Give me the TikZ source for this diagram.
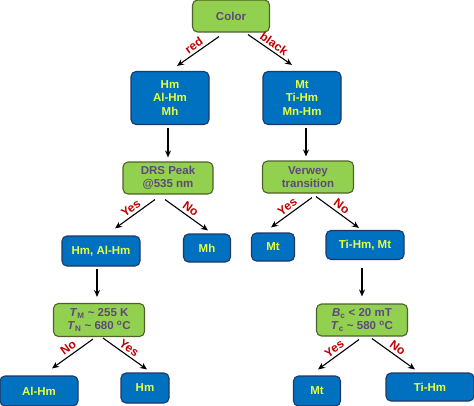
\documentclass[tikz,border=0pt]{standalone}
\usepackage{fontspec}
\setmainfont{Liberation Sans}
\usepackage{xcolor}
\usetikzlibrary{arrows.meta}
\definecolor{boxgreen}{HTML}{92D050}
\definecolor{edgegreen}{HTML}{4F6228}
\definecolor{txtpurple}{HTML}{5F497A}
\definecolor{boxblue}{HTML}{0070C0}
\definecolor{edgeblue}{HTML}{1F3864}
\definecolor{txtyellow}{HTML}{E6FF3C}
\definecolor{lblred}{HTML}{C00000}

\begin{document}
\begin{tikzpicture}[
    x=1pt, y=-1pt,
    box/.style={rounded corners=5pt, line width=1.1pt, inner sep=0pt,
                align=center, font=\fontsize{11.5}{13.3}\selectfont\bfseries},
    greenbox/.style={box, fill=boxgreen, draw=edgegreen, text=txtpurple},
    bluebox/.style={box, fill=boxblue, draw=edgeblue, text=txtyellow},
    arr/.style={-{Stealth[length=7pt, width=6pt]}, line width=1.1pt},
    lbl/.style={midway, sloped, above, inner sep=2.5pt, text=lblred,
                font=\fontsize{12}{14}\selectfont\bfseries}
  ]
  \useasboundingbox (0,0) rectangle (474,405);
  % tests
  \node[greenbox, minimum width=77pt, minimum height=32pt] (color) at (231,16) {Color};
  \node[greenbox, minimum width=90pt, minimum height=32pt] (drs) at (168,178) {DRS Peak\\@535 nm};
  \node[greenbox, minimum width=91pt, minimum height=32pt] (verwey) at (308,177) {Verwey\\transition};
  \node[greenbox, minimum width=91pt, minimum height=33pt] (tm) at (99,320)
    {\textit{T}\textsubscript{M} \textasciitilde{} 255 K\\\textit{T}\textsubscript{N} \textasciitilde{} 680 \textsuperscript{o}C};
  \node[greenbox, minimum width=91pt, minimum height=32pt] (bc) at (362,320)
    {\textit{B}\textsubscript{c} < 20 mT\\\textit{T}\textsubscript{c} \textasciitilde{} 580 \textsuperscript{o}C};
  % minerals
  \node[bluebox, minimum width=78pt, minimum height=53pt] (hmgrp) at (170,98) {Hm\\Al-Hm\\Mh};
  \node[bluebox, minimum width=78pt, minimum height=53pt] (mtgrp) at (302,98) {Mt\\Ti-Hm\\Mn-Hm};
  \node[bluebox, minimum width=78pt, minimum height=30pt] (hmal) at (101,251) {Hm, Al-Hm};
  \node[bluebox, minimum width=47pt, minimum height=28pt] (mh) at (207,248) {Mh};
  \node[bluebox, minimum width=43pt, minimum height=28pt] (mta) at (273,247) {Mt};
  \node[bluebox, minimum width=78pt, minimum height=29pt] (timt) at (365,245) {Ti-Hm, Mt};
  \node[bluebox, minimum width=78pt, minimum height=30pt] (alhm) at (39,391) {Al-Hm};
  \node[bluebox, minimum width=48pt, minimum height=30pt] (hmb) at (145,388) {Hm};
  \node[bluebox, minimum width=47pt, minimum height=30pt] (mtb) at (317,391) {Mt};
  \node[bluebox, minimum width=88pt, minimum height=28pt] (tihm) at (430,387) {Ti-Hm};
  % arrows
  \draw[arr] ([xshift=-12pt,yshift=-4pt]color.south) -- ([xshift=7pt,yshift=5pt]hmgrp.north) node[lbl] {red};
  \draw[arr] ([xshift=17pt,yshift=-2pt]color.south) -- ([xshift=-10pt,yshift=6pt]mtgrp.north) node[lbl] {black};
  \draw[arr] ([xshift=-2pt,yshift=-3pt]hmgrp.south) -- ([yshift=4pt]drs.north);
  \draw[arr] ([xshift=4pt,yshift=-3pt]mtgrp.south) -- ([xshift=-2pt,yshift=4pt]verwey.north);
  \draw[arr] ([xshift=-13pt,yshift=-5pt]drs.south) -- ([xshift=14pt,yshift=7pt]hmal.north) node[lbl] {Yes};
  \draw[arr] ([xshift=-3pt,yshift=-5pt]drs.south) -- ([xshift=1pt,yshift=3pt]mh.north) node[lbl] {No};
  \draw[arr] ([xshift=4pt,yshift=-4pt]verwey.south) -- ([xshift=-2pt,yshift=5pt]mta.north) node[lbl] {Yes};
  \draw[arr] ([xshift=8pt,yshift=-3pt]verwey.south) -- ([xshift=-6pt,yshift=2pt]timt.north) node[lbl] {No};
  \draw[arr] ([xshift=-4pt,yshift=-2pt]hmal.south) -- ([xshift=-2pt,yshift=6pt]tm.north);
  \draw[arr] ([xshift=-3pt,yshift=-8pt]timt.south) -- ([yshift=7pt]bc.north);
  \draw[arr] ([xshift=-6pt,yshift=-2pt]tm.south) -- ([xshift=13pt,yshift=7pt]alhm.north) node[lbl] {No};
  \draw[arr] ([xshift=4pt,yshift=-1pt]tm.south) -- ([xshift=2pt,yshift=3pt]hmb.north) node[lbl] {Yes};
  \draw[arr] ([xshift=-3pt,yshift=-3pt]bc.south) -- ([xshift=1pt,yshift=6pt]mtb.north) node[lbl] {Yes};
  \draw[arr] ([xshift=10pt,yshift=-2pt]bc.south) -- ([xshift=-15pt,yshift=3pt]tihm.north) node[lbl] {No};
\end{tikzpicture}
\end{document}
